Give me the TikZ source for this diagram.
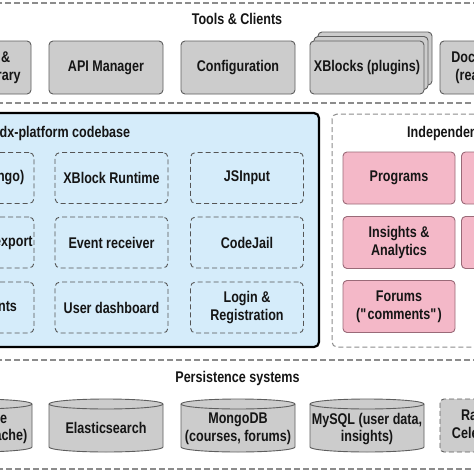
\documentclass[tikz,border=0pt]{standalone}
\usepackage{fontspec}
\setmainfont{Liberation Sans}[FakeStretch=0.81]
\definecolor{boxgrey}{HTML}{CCCCCC}
\definecolor{boxedge}{HTML}{5E5E5E}
\definecolor{bandline}{HTML}{8C8C8C}
\definecolor{innerdash}{HTML}{555555}
\definecolor{bluefill}{HTML}{D5ECFA}
\definecolor{pinkfill}{HTML}{F4B8C8}
\definecolor{pinkedge}{HTML}{9A6A78}
\definecolor{txt}{HTML}{151515}
\begin{document}
\begin{tikzpicture}[x=1pt,y=1pt,
  font=\bfseries\fontsize{15.5}{17.8}\selectfont, text=txt,
  band/.style={draw=bandline, line width=1.6pt, dash pattern=on 6pt off 3pt},
  toolbox/.style={draw=boxedge, fill=boxgrey, rounded corners=4pt, line width=0.9pt,
    minimum width=114pt, minimum height=53pt, inner sep=0pt, align=center},
  innerbox/.style={draw=innerdash, line width=0.9pt, dash pattern=on 5pt off 3pt,
    rounded corners=5pt, minimum width=113pt, minimum height=51pt, inner sep=0pt, align=center},
  svcbox/.style={draw=pinkedge, fill=pinkfill, rounded corners=4pt, line width=0.9pt,
    minimum width=112pt, minimum height=52pt, inner sep=0pt, align=center},
  cyl/.style={draw=boxedge, fill=boxgrey, line width=0.9pt},
  cyltext/.style={inner sep=0pt, align=center},
  title/.style={inner sep=0pt}
]
\useasboundingbox (0,0) rectangle (474,-474);
\clip (0,0) rectangle (474,-474);
\fill[white] (0,0) rectangle (474,-474);

% Tools & Clients band
\draw[band] (-20,-3) rectangle (494,-103);
\node[title] (tctitle) at (237,-19) {Tools \& Clients};
\node[toolbox] (t1) at (-26,-67.5) {Authoring \&\\Content Library};
\node[toolbox] (t2) at (106,-67.5) {API Manager};
\node[toolbox] (t3) at (238,-67.5) {Configuration};
\node[toolbox] (t4c) at (375,-58.5) {};
\node[toolbox] (t4b) at (371,-63) {};
\node[toolbox] (t4) at (367,-67.5) {XBlocks (plugins)};
\node[toolbox] (t5) at (497,-67.5) {Documentation\\(readthedocs)};

% edx-platform codebase
\draw[draw=black, fill=bluefill, line width=2.2pt, rounded corners=5pt] (-20,-113) rectangle (319,-347);
\node[title, anchor=west] (edxtitle) at (-7.5,-133) {edx-platform codebase};
\node[innerbox] (e11) at (-22.5,-178) {Studio (Django)};
\node[innerbox] (e12) at (111.5,-178) {XBlock Runtime};
\node[innerbox] (e13) at (247,-178) {JSInput};
\node[innerbox] (e21) at (-22.5,-242.5) {OLX import/export};
\node[innerbox] (e22) at (111.5,-242.5) {Event receiver};
\node[innerbox] (e23) at (247,-242.5) {CodeJail};
\node[innerbox] (e31) at (-22.5,-307.5) {Assignments};
\node[innerbox] (e32) at (111.5,-307.5) {User dashboard};
\node[innerbox] (e33) at (247,-307.5) {Login \&\\Registration};

% Independent services
\draw[draw=bandline, line width=1pt, dash pattern=on 5pt off 3pt, rounded corners=5pt] (332,-114) rectangle (600,-347);
\node[title, anchor=west] (indtitle) at (407,-133) {Independent IDAs};
\node[svcbox] (s11) at (399,-178) {Programs};
\node[svcbox] (s12) at (517.5,-178) {};
\node[svcbox] (s21) at (399,-242.5) {Insights \&\\Analytics};
\node[svcbox] (s22) at (517.5,-242.5) {};
\node[svcbox] (s31) at (399,-306.5) {Forums\\(\textquotedbl comments\textquotedbl)};

% Persistence systems
\draw[band] (-20,-360) rectangle (494,-469);
\node[title] (pstitle) at (237.5,-378) {Persistence systems};
\foreach \cx in {-25,106,238,367}{
  \draw[cyl] (\cx-57,-404) -- (\cx-57,-447)
     arc[start angle=180,end angle=360,x radius=57,y radius=5]
     -- (\cx+57,-404)
     arc[start angle=0,end angle=180,x radius=57,y radius=5] -- cycle;
  \draw[cyl, fill=none] (\cx-57,-404) arc[start angle=180,end angle=360,x radius=57,y radius=5];
}
\node[cyltext] (p1) at (-25,-428) {Memcache\\(sessions, cache)};
\node[cyltext] (p2) at (106,-428) {Elasticsearch};
\node[cyltext] (p3) at (238,-429) {MongoDB\\(courses, forums)};
\node[cyltext] (p4) at (367,-429) {MySQL (user data,\\insights)};
\node[toolbox, dash pattern=on 5pt off 3pt, minimum height=53pt] (p5) at (497,-425.5) {RabbitMQ \&\\Celery workers};
\end{tikzpicture}
\end{document}
